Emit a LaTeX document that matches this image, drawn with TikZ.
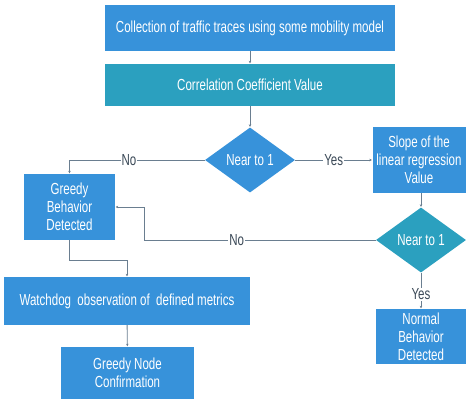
\documentclass[tikz,border=0pt]{standalone}
\usepackage{fontspec}
\setmainfont{Liberation Sans}[FakeStretch=0.72]
\usetikzlibrary{shapes.geometric,arrows.meta}
\definecolor{boxblue}{HTML}{3792DA}
\definecolor{boxteal}{HTML}{2BA0BF}
\definecolor{linegray}{HTML}{6A7E90}
\definecolor{labelgray}{HTML}{3C4A58}
\begin{document}
\begin{tikzpicture}[x=1pt,y=-1pt,
  every node/.style={font=\fontsize{16}{17.8}\selectfont},
  boxb/.style={rectangle, fill=boxblue, text=white, inner sep=0pt, align=center},
  boxt/.style={rectangle, fill=boxteal, text=white, inner sep=0pt, align=center},
  dia/.style={diamond, inner sep=0pt, text=white, minimum width=90pt, minimum height=65pt, aspect=1.38},
  conn/.style={draw=linegray, line width=0.9pt, -{Stealth[length=2.5pt,width=2.5pt]}, shorten >=0.5pt},
  lbl/.style={fill=white, text=labelgray, inner sep=1pt}]
\useasboundingbox (0,0) rectangle (474,402);
\node[boxb, minimum width=290pt, minimum height=46pt] (c1) at (250,28) {Collection of traffic traces using some mobility model};
\node[boxt, minimum width=290pt, minimum height=42pt] (c2) at (250,85) {Correlation Coefficient Value};
\node[dia, fill=boxblue] (d1) at (250,160) {Near to 1};
\node[boxb, minimum width=93pt, minimum height=66pt] (slope) at (419,160) {Slope of the\\linear regression\\Value};
\node[boxb, minimum width=91pt, minimum height=66pt] (gbd) at (69.5,207) {Greedy\\Behavior\\Detected};
\node[dia, fill=boxteal] (d2) at (421,240) {Near to 1};
\node[boxb, minimum width=246pt, minimum height=48pt] (watch) at (127,301) {Watchdog\ \ observation of\ \ defined metrics};
\node[boxb, minimum width=133pt, minimum height=52pt] (gnc) at (127.5,373) {Greedy Node\\Confirmation};
\node[boxb, minimum width=90pt, minimum height=55pt] (normal) at (421,336.5) {Normal\\Behavior\\Detected};
\coordinate (p1) at (144,240);
\coordinate (p2) at (144,207);
\coordinate (q1) at (69.5,260);
\coordinate (q2) at (127,260);
\draw[conn] (c1) -- (c2);
\draw[conn] (c2) -- (d1);
\draw[conn] (d1.west) -| node[lbl, pos=0.28] {No} (gbd.north);
\draw[conn] (d1.east) -- node[lbl, pos=0.5] {Yes} (slope.west);
\draw[conn] (slope.south -| d2.north) -- (d2.north);
\draw[conn] (d2.west) -- node[lbl, pos=0.6] {No} (p1) -- (p2) -- (gbd.east);
\draw[conn] (gbd.south) -- (q1) -- (q2) -- (watch.north);
\draw[conn] (watch) -- (gnc);
\draw[conn] (d2.south) -- node[lbl, pos=0.6] {Yes} (normal.north);
\end{tikzpicture}
\end{document}
